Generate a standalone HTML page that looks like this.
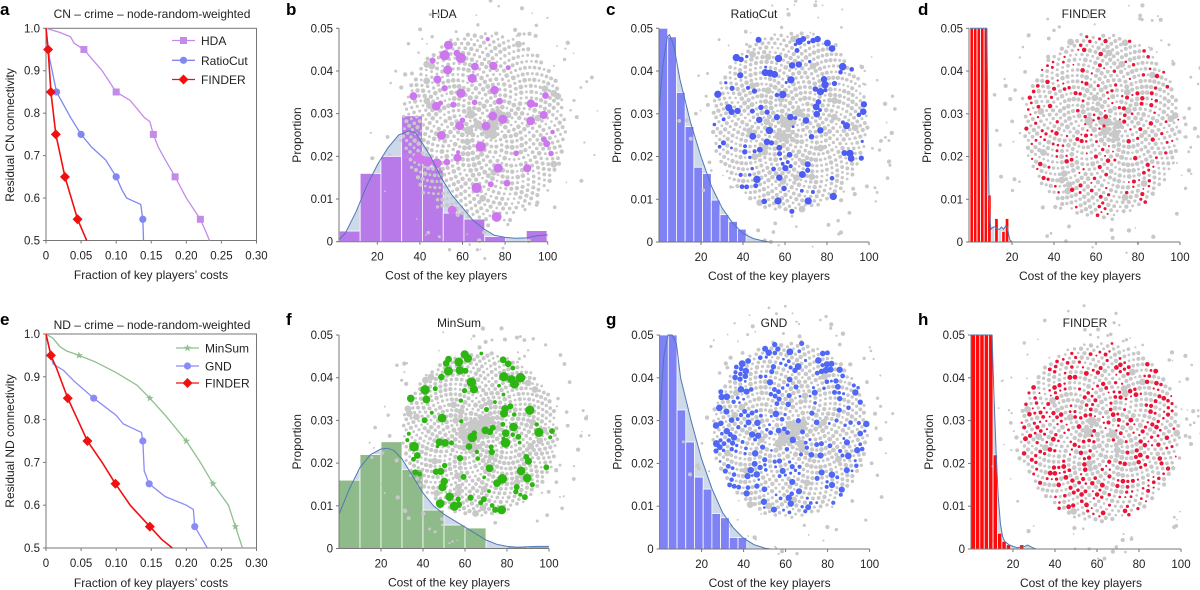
<!DOCTYPE html>
<html><head><meta charset="utf-8">
<style>
html,body{margin:0;padding:0;background:#fff;}
svg{display:block;font-family:"Liberation Sans",sans-serif;}
.tk{font-size:11.5px;fill:#222;}
.ttl{font-size:12px;fill:#222;}
.lt{font-size:17px;font-weight:bold;fill:#000;}
</style></head>
<body>
<svg id="fig" width="1200" height="590" viewBox="0 0 1200 590" xmlns="http://www.w3.org/2000/svg">
<text class="lt" x="0" y="15">a</text>
<text class="ttl" x="152" y="18" text-anchor="middle">CN – crime – node-random-weighted</text>
<text class="lt" x="286" y="15">b</text>
<text class="ttl" x="444" y="18" text-anchor="middle">HDA</text>
<text class="lt" x="606" y="15">c</text>
<text class="ttl" x="754" y="18" text-anchor="middle">RatioCut</text>
<text class="lt" x="918" y="15">d</text>
<text class="ttl" x="1084" y="18" text-anchor="middle">FINDER</text>
<text class="lt" x="0" y="325">e</text>
<text class="ttl" x="152" y="329" text-anchor="middle">ND – crime – node-random-weighted</text>
<text class="lt" x="286" y="325">f</text>
<text class="ttl" x="459" y="327" text-anchor="middle">MinSum</text>
<text class="lt" x="606" y="325">g</text>
<text class="ttl" x="774" y="327" text-anchor="middle">GND</text>
<text class="lt" x="918" y="325">h</text>
<text class="ttl" x="1085" y="327" text-anchor="middle">FINDER</text>
<text class="ttl" transform="translate(14,135) rotate(-90)" text-anchor="middle">Residual CN connectivity</text>
<text class="ttl" transform="translate(14,441) rotate(-90)" text-anchor="middle">Residual ND connectivity</text>
<text class="ttl" x="151" y="279" text-anchor="middle">Fraction of key players’ costs</text>
<text class="ttl" x="151" y="587" text-anchor="middle">Fraction of key players’ costs</text>
</svg>
<script>
const NS='http://www.w3.org/2000/svg';
const S=document.getElementById('fig');
function mk(tag,attrs,parent){const e=document.createElementNS(NS,tag);for(const k in attrs)e.setAttribute(k,attrs[k]);(parent||S).appendChild(e);return e;}

// ---------- line-chart data (panel a) ----------
const hdaX=[0,0.02,0.035,0.04,0.054,0.08,0.1,0.12,0.14,0.148,0.153,0.16,0.17,0.184,0.2,0.22,0.228,0.233];
const hdaY=[1.0,0.99,0.98,0.965,0.95,0.9,0.85,0.83,0.79,0.78,0.75,0.72,0.69,0.65,0.6,0.55,0.52,0.5];
const hdaMX=[0.054,0.1,0.153,0.184,0.22];
const hdaMY=[0.95,0.85,0.75,0.65,0.55];
const rcX=[0,0.005,0.015,0.025,0.035,0.05,0.065,0.085,0.1,0.108,0.115,0.135,0.138,0.139];
const rcY=[1.0,0.93,0.85,0.82,0.79,0.75,0.72,0.69,0.65,0.62,0.6,0.585,0.55,0.5];
const rcMX=[0.015,0.05,0.1,0.138];
const rcMY=[0.85,0.75,0.65,0.55];
const fAX=[0,0.003,0.007,0.014,0.027,0.045,0.058];
const fAY=[1.0,0.95,0.85,0.75,0.65,0.55,0.5];
const fAMX=[0.003,0.007,0.014,0.027,0.045];
const fAMY=[0.95,0.85,0.75,0.65,0.55];
// ---------- line-chart data (panel e) ----------
const msX=[0,0.01,0.02,0.03,0.047,0.07,0.1,0.13,0.148,0.17,0.2,0.22,0.238,0.26,0.27,0.28];
const msY=[1.0,0.99,0.97,0.96,0.95,0.935,0.91,0.88,0.85,0.81,0.75,0.7,0.65,0.6,0.55,0.5];
const msMX=[0.047,0.148,0.2,0.238,0.27];
const msMY=[0.95,0.85,0.75,0.65,0.55];
const gnX=[0,0.01,0.025,0.04,0.068,0.1,0.11,0.136,0.138,0.14,0.147,0.17,0.2,0.21,0.212,0.23];
const gnY=[1.0,0.93,0.915,0.89,0.85,0.81,0.79,0.77,0.75,0.68,0.65,0.62,0.6,0.59,0.55,0.5];
const gnMX=[0.068,0.138,0.147,0.212];
const gnMY=[0.85,0.75,0.65,0.55];
const fEX=[0,0.007,0.015,0.031,0.045,0.059,0.08,0.099,0.12,0.148,0.165,0.18];
const fEY=[1.0,0.95,0.92,0.85,0.8,0.75,0.7,0.65,0.6,0.55,0.52,0.5];
const fEMX=[0.007,0.031,0.059,0.099,0.148];
const fEMY=[0.95,0.85,0.75,0.65,0.55];
const lineXTicks=[0,0.05,0.10,0.15,0.20,0.25,0.30];
const lineXTickLabels=['0','0.05','0.10','0.15','0.20','0.25','0.30'];
const lineYTicks=[0.5,0.6,0.7,0.8,0.9,1.0];
const lineYTickLabels=['0.5','0.6','0.7','0.8','0.9','1.0'];

// ---------- histogram data ----------
const bStart=2.2, bWidth=9.75;
const bHeights=[0.0025,0.016,0.020,0.0295,0.0175,0.0067,0.0053,0.0012,0,0.0026];
const bDenX=[2,5,10,15,20,25,30,35,38,40,45,50,55,60,65,70,75,80,85,90,95,100];
const bDenY=[0.0005,0.002,0.007,0.013,0.018,0.022,0.025,0.026,0.0255,0.024,0.02,0.015,0.011,0.008,0.005,0.003,0.0015,0.001,0.0008,0.0009,0.0014,0.0016];
const cStart=0, cWidth=4.15;
const cHeights=[0.06,0.048,0.035,0.027,0.0175,0.016,0.0098,0.0064,0.0048,0.003];
const cDenX=[0,1,2,4,5,7,10,15,20,25,30,35,40,45,50,53];
const cDenY=[0.03,0.037,0.042,0.048,0.0485,0.046,0.038,0.028,0.02,0.013,0.008,0.0045,0.002,0.0008,0.0002,0];
const dStart=0, dWidth=1.68;
const dHeights=[0.06,0.06,0.06,0.06,0.06,0.011,0,0.0055,0,0.0025,0.0055];
const dDenX=[0,4,7,8,8.5,9,9.5,10,11,12,13,14,15,16,17,17.5,18,18.5,19,20];
const dDenY=[0.06,0.06,0.06,0.05,0.03,0.012,0.005,0.003,0.0035,0.0035,0.003,0.003,0.0035,0.003,0.0038,0.0037,0.003,0.0015,0.0005,0];
const fStart=0, fWidth=10;
const fHeights=[0.016,0.022,0.025,0.0185,0.009,0.0055,0.0048,0,0.0005,0.0005];
const fDenX=[0,5,10,15,20,23,26,30,35,40,45,50,55,60,65,70,75,80,85,90,95,100];
const fDenY=[0.008,0.014,0.019,0.022,0.0233,0.0235,0.023,0.021,0.017,0.013,0.01,0.008,0.0065,0.005,0.0035,0.002,0.001,0.0005,0.0003,0.0004,0.0005,0.0005];
const gStart=0, gWidth=4.15;
const gHeights=[0.06,0.06,0.0325,0.025,0.0168,0.014,0.0083,0.0073,0.0027,0.0027];
const gDenX=[0,2,4,6,8,10,15,20,25,30,35,40,45,50,53];
const gDenY=[0.03,0.045,0.055,0.055,0.048,0.04,0.03,0.021,0.014,0.0085,0.005,0.0025,0.001,0.0002,0];
const hStart=0, hWidth=2.1;
const hHeights=[0.06,0.06,0.06,0.06,0.06,0.022,0.0037,0.0018,0.001,0,0,0.001];
const hDenX=[0,9,10,11,12,13,14,15,16,18,20,22,25,27,29,31];
const hDenY=[0.06,0.06,0.05,0.035,0.022,0.012,0.006,0.003,0.0018,0.001,0.0006,0.0003,0.0005,0.0009,0.0004,0];
const histXTicks=[20,40,60,80,100];
const histXTickLabels=['20','40','60','80','100'];
const histYTicks=[0,0.01,0.02,0.03,0.04,0.05];
const histYTickLabels=['0','0.01','0.02','0.03','0.04','0.05'];

// ---------- line panels ----------
function linePanel(P,series,legend){
  const sx=v=>P.x0+v/0.3*(P.x1-P.x0);
  const sy=v=>P.y0-(v-0.5)/0.5*(P.y0-P.y1);
  const frame=mk('rect',{x:P.x0,y:P.y1,width:P.x1-P.x0,height:P.y0-P.y1,fill:'none',stroke:'#777','stroke-width':1});
  
  
  lineXTicks.forEach((t,i)=>{
    const tl=mk('line',{x1:sx(t),x2:sx(t),y1:P.y0,y2:P.y0+3,stroke:'#777'});
    
    
    const tx=mk('text',{x:sx(t),y:P.y0+19,'text-anchor':'middle',class:'tk'});
    tx.textContent=lineXTickLabels[i];
    
    
  });
  lineYTicks.forEach((t,i)=>{
    const tl=mk('line',{x1:P.x0-3,x2:P.x0,y1:sy(t),y2:sy(t),stroke:'#777'});
    
    
    const tx=mk('text',{x:P.x0-6,y:sy(t)+4,'text-anchor':'end',class:'tk'});
    tx.textContent=lineYTickLabels[i];
    
    
  });
  series.forEach(s=>{
    const pts=s.x.map((v,i)=>sx(v)+','+sy(s.y[i])).join(' ');
    const pl=mk('polyline',{points:pts,fill:'none',stroke:s.color,'stroke-width':s.w||1.3});
    
    
    s.mx.forEach((v,i)=>{
      const m=marker(s.marker,sx(v),sy(s.my[i]),s.color,s.ms);
      
      
    });
  });
  series.forEach((s,i)=>{
    const y=legend.y[i];
    const ll=mk('line',{x1:legend.x,x2:legend.x+23,y1:y,y2:y,stroke:s.color,'stroke-width':1.3});
    
    
    const lm=marker(s.marker,legend.x+11.5,y,s.color,s.ms);
    
    
    const lt=mk('text',{x:legend.x+29,y:y+4.5,class:'ttl'});
    lt.textContent=s.label;
    
    
  });
}
function marker(type,x,y,color,sz){
  if(type==='square')return mk('rect',{x:x-3.5,y:y-3.5,width:7,height:7,fill:color});
  if(type==='circle')return mk('circle',{cx:x,cy:y,r:3.6,fill:color});
  if(type==='diamond')return mk('polygon',{points:`${x},${y-5} ${x+5},${y} ${x},${y+5} ${x-5},${y}`,fill:color});
  let p=[];for(let k=0;k<10;k++){const a=-Math.PI/2+k*Math.PI/5;const r=k%2?1.6:4;p.push((x+r*Math.cos(a)).toFixed(2)+','+(y+r*Math.sin(a)).toFixed(2));}
  return mk('polygon',{points:p.join(' '),fill:color});
}
linePanel({id:'panel-a',x0:46,x1:256.5,y0:240.5,y1:28.3},[
  {name:'hda',label:'HDA',x:hdaX,y:hdaY,mx:hdaMX,my:hdaMY,color:'#c38be9',marker:'square'},
  {name:'ratiocut',label:'RatioCut',x:rcX,y:rcY,mx:rcMX,my:rcMY,color:'#8086f2',marker:'circle'},
  {name:'finder-a',label:'FINDER',x:fAX,y:fAY,mx:fAMX,my:fAMY,color:'#f01010',marker:'diamond',w:1.6}
],{x:172,y:[40.5,60.3,79.5]});
linePanel({id:'panel-e',x0:46,x1:256.5,y0:548,y1:334},[
  {name:'minsum',label:'MinSum',x:msX,y:msY,mx:msMX,my:msMY,color:'#8fc08f',marker:'star'},
  {name:'gnd',label:'GND',x:gnX,y:gnY,mx:gnMX,my:gnMY,color:'#8a8cf5',marker:'circle'},
  {name:'finder-e',label:'FINDER',x:fEX,y:fEY,mx:fEMX,my:fEMY,color:'#f01010',marker:'diamond',w:1.6}
],{x:176,y:[348,366,383]});

// ---------- deterministic hash for network illustration ----------
function hs(i,s){const x=Math.sin(i*12.9898+s*78.233)*43758.5453;return x-Math.floor(x);}
function network(N){
  const g=mk('g',{});
  
  
  const n=N.n;
  for(let i=0;i<80;i++){ // outliers
    const a=hs(i,N.seed+5)*6.283, r=1.02+0.4*hs(i,N.seed+6);
    const c=mk('circle',{cx:N.cx+N.rx*r*Math.cos(a),cy:N.cy+N.ry*r*Math.sin(a),r:0.8+1.4*hs(i,N.seed+7),fill:'#c8c8c8'},g);
    
    
  }
  const colored=[];
  for(let i=0;i<n;i++){
    const t=(i+0.5)/n, r=Math.sqrt(t), a=i*2.39996;
    const px=N.cx+N.rx*r*Math.cos(a), py=N.cy+N.ry*r*Math.sin(a);
    let rad=1.3+1.6*hs(i,N.seed+2)*(1-0.45*r);
    if(i<40&&hs(i,N.seed+3)<0.25)rad=4.5;
    else if(hs(i,N.seed+3)<0.03)rad=3.4;
    if(hs(i,N.seed+4)<N.frac)colored.push([px,py]);
    else{const c=mk('circle',{cx:px,cy:py,r:rad,fill:'#c8c8c8'},g);
      
      }
  }
  colored.forEach((p,i)=>{
    const c=mk('circle',{cx:p[0],cy:p[1],r:N.cr*(0.55+0.9*hs(i,N.seed+9)),fill:N.color},g);
    
    
  });
}

// ---------- histogram panels ----------
function histPanel(P,start,width,heights,denX,denY,N){
  const sx=v=>P.ox+v*P.k;
  const sy=v=>P.y0-Math.min(v,0.05)/0.05*(P.y0-P.y1);
  const pts=denX.map((v,i)=>sx(v).toFixed(1)+','+sy(denY[i]).toFixed(1));
  const fill=mk('polygon',{points:sx(denX[0])+','+P.y0+' '+pts.join(' ')+' '+sx(denX[denX.length-1])+','+P.y0,fill:'#cdd8e8'});
  
  
  heights.forEach((h,i)=>{
    if(h<=0)return;
    const x=sx(start+i*width), w=width*P.k;
    const b=mk('rect',{x:x,y:sy(h),width:w,height:P.y0-sy(h),fill:P.color,stroke:'#ffffff','stroke-width':0.8});
    
    
  });
  network(N);
  const ln=mk('polyline',{points:pts.join(' '),fill:'none',stroke:'#4f78b4','stroke-width':1});
  
  
  const ax=mk('path',{d:`M${P.left},${P.y1} V${P.y0} H${sx(100)}`,fill:'none',stroke:'#777','stroke-width':1});
  
  
  histXTicks.forEach((t,i)=>{
    const tl=mk('line',{x1:sx(t),x2:sx(t),y1:P.y0,y2:P.y0+3,stroke:'#777'});
    
    
    const tx=mk('text',{x:sx(t),y:P.y0+19,'text-anchor':'middle',class:'tk'});
    tx.textContent=histXTickLabels[i];
    
    
  });
  histYTicks.forEach((t,i)=>{
    const tl=mk('line',{x1:P.left-3,x2:P.left,y1:sy(t),y2:sy(t),stroke:'#777'});
    
    
    const tx=mk('text',{x:P.left-6,y:sy(t)+4,'text-anchor':'end',class:'tk'});
    tx.textContent=histYTickLabels[i];
    
    
  });
  const yt=mk('text',{transform:`translate(${P.left-38},${(P.y0+P.y1)/2}) rotate(-90)`,'text-anchor':'middle',class:'ttl'});
  yt.textContent='Proportion';
  
  
  const xt=mk('text',{x:sx(50)+5,y:P.y0+38,'text-anchor':'middle',class:'ttl'});
  xt.textContent='Cost of the key players';
  
  
}
histPanel({id:'panel-b',ox:334.7,k:2.13,left:339,y0:241.7,y1:28.3,color:'#b87ae8'},bStart,bWidth,bHeights,bDenX,bDenY,
  {id:'panel-b',cx:484,cy:126,rx:82,ry:94,n:820,frac:0.07,cr:3.6,color:'#cc77ee',seed:1});
histPanel({id:'panel-c',ox:659,k:2.1,left:659,y0:242,y1:28.3,color:'#7f82f4'},cStart,cWidth,cHeights,cDenX,cDenY,
  {id:'panel-c',cx:790,cy:122,rx:78,ry:90,n:820,frac:0.13,cr:2.6,color:'#4d5cf2',seed:2});
histPanel({id:'panel-d',ox:970,k:2.1,left:969,y0:242,y1:28.3,color:'#ff0a0a'},dStart,dWidth,dHeights,dDenX,dDenY,
  {id:'panel-d',cx:1102,cy:126,rx:78,ry:92,n:820,frac:0.22,cr:1.6,color:'#ea1438',seed:3});
histPanel({id:'panel-f',ox:339,k:2.1,left:339,y0:548.5,y1:335,color:'#8fbb8a'},fStart,fWidth,fHeights,fDenX,fDenY,
  {id:'panel-f',cx:480,cy:434,rx:78,ry:82,n:820,frac:0.14,cr:3.4,color:'#2db512',seed:4});
histPanel({id:'panel-g',ox:659.6,k:2.1,left:659.6,y0:549,y1:335,color:'#7f82f4'},gStart,gWidth,gHeights,gDenX,gDenY,
  {id:'panel-g',cx:790,cy:430,rx:78,ry:88,n:820,frac:0.3,cr:2.4,color:'#4f68f5',seed:5});
histPanel({id:'panel-h',ox:971,k:2.1,left:971,y0:549,y1:335,color:'#ff0a0a'},hStart,hWidth,hHeights,hDenX,hDenY,
  {id:'panel-h',cx:1100,cy:432,rx:80,ry:90,n:820,frac:0.4,cr:1.7,color:'#ea1438',seed:6});
</script>
</body></html>
